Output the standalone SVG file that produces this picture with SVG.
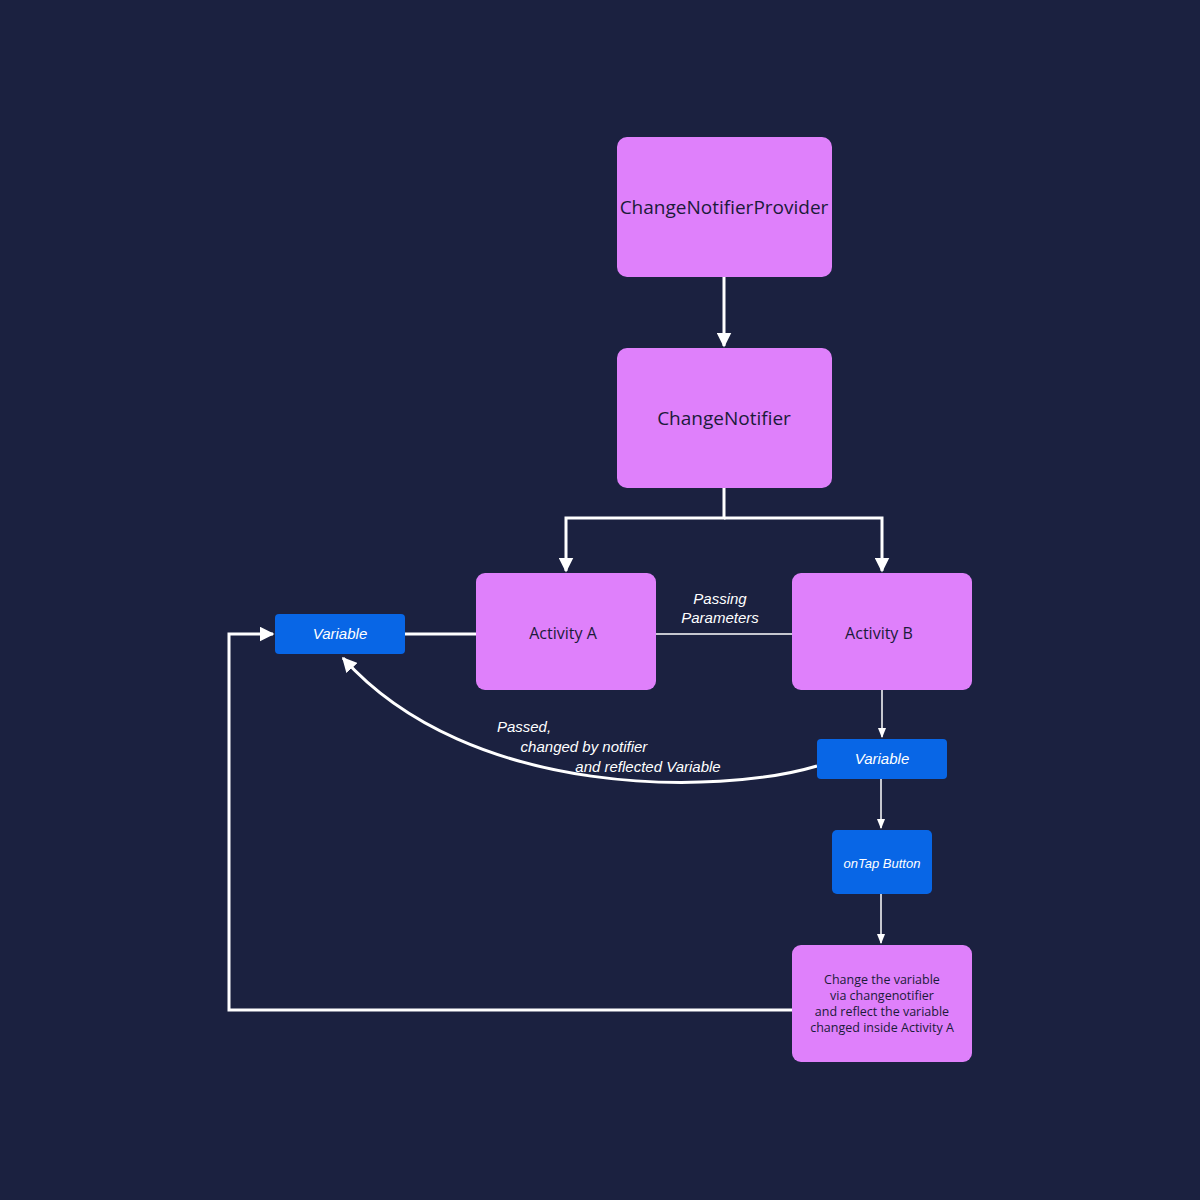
<svg xmlns="http://www.w3.org/2000/svg" width="1200" height="1200" viewBox="0 0 1200 1200">
<style>
.p{fill:#df80fb}
.b{fill:#0866e6}
.t{font-family:"Open Sans","Liberation Sans",sans-serif;fill:#1b1b3a;text-anchor:middle}
.w{font-family:"Liberation Sans",sans-serif;fill:#ffffff;text-anchor:middle;font-style:italic}
.c{fill:none;stroke:#ffffff}
</style>
<defs>
<marker id="a" viewBox="0 0 10 10" refX="9" refY="5" markerWidth="5" markerHeight="5" markerUnits="strokeWidth" orient="auto"><path d="M0,0L10,5L0,10z" fill="#fff"/></marker>
<marker id="s" viewBox="0 0 10 10" refX="9" refY="5" markerWidth="7" markerHeight="7" markerUnits="strokeWidth" orient="auto"><path d="M0,1L10,5L0,9z" fill="#fff"/></marker>
</defs>
<rect width="1200" height="1200" fill="#1b2140"/>
<g id="connectors">
<path class="c" stroke-width="3" d="M724,277V346" marker-end="url(#a)"/>
<path class="c" stroke-width="3" d="M724,488V518H566V571" marker-end="url(#a)"/>
<path class="c" stroke-width="3" d="M724,518H882V571" marker-end="url(#a)"/>
<path class="c" stroke-width="3" d="M405,634H476"/>
<path class="c" stroke-width="1.5" d="M656,634H792"/>
<path class="c" stroke-width="1.5" d="M882,690V737" marker-end="url(#s)"/>
<path class="c" stroke-width="1.5" d="M881,779V828" marker-end="url(#s)"/>
<path class="c" stroke-width="1.5" d="M881,894V943" marker-end="url(#s)"/>
<path class="c" stroke-width="3" d="M817,766C720,795 470,800 343,658" marker-end="url(#a)"/>
<path class="c" stroke-width="3" d="M792,1010H229V634H273" marker-end="url(#a)"/>
<text class="w" font-size="15" x="720" y="604">Passing</text>
<text class="w" font-size="15" x="720" y="623">Parameters</text>
<text class="w" font-size="15" x="524" y="732">Passed,</text>
<text class="w" font-size="15" x="584" y="752">changed by notifier</text>
<text class="w" font-size="15" x="648" y="772">and reflected Variable</text>
</g>
<g id="n1"><rect class="p" x="617" y="137" width="215" height="140" rx="10"/><text class="t" x="724" y="214" font-size="19">ChangeNotifierProvider</text></g>
<g id="n2"><rect class="p" x="617" y="348" width="215" height="140" rx="10"/><text class="t" x="724" y="425" font-size="19">ChangeNotifier</text></g>
<g id="n3"><rect class="p" x="476" y="573" width="180" height="117" rx="9"/><text class="t" x="563" y="639" font-size="16">Activity A</text></g>
<g id="n4"><rect class="p" x="792" y="573" width="180" height="117" rx="9"/><text class="t" x="879" y="639" font-size="16">Activity B</text></g>
<g id="n5"><rect class="b" x="275" y="614" width="130" height="40" rx="4"/><text class="w" x="340" y="639" font-size="15">Variable</text></g>
<g id="n6"><rect class="b" x="817" y="739" width="130" height="40" rx="4"/><text class="w" x="882" y="764" font-size="15">Variable</text></g>
<g id="n7"><rect class="b" x="832" y="830" width="100" height="64" rx="5"/><text class="w" x="882" y="868" font-size="13">onTap Button</text></g>
<g id="n8"><rect class="p" x="792" y="945" width="180" height="117" rx="9"/>
<text class="t" font-size="12.5" x="882" y="984">Change the variable</text>
<text class="t" font-size="12.5" x="882" y="1000">via changenotifier</text>
<text class="t" font-size="12.5" x="882" y="1016">and reflect the variable</text>
<text class="t" font-size="12.5" x="882" y="1032">changed inside Activity A</text></g>
</svg>
